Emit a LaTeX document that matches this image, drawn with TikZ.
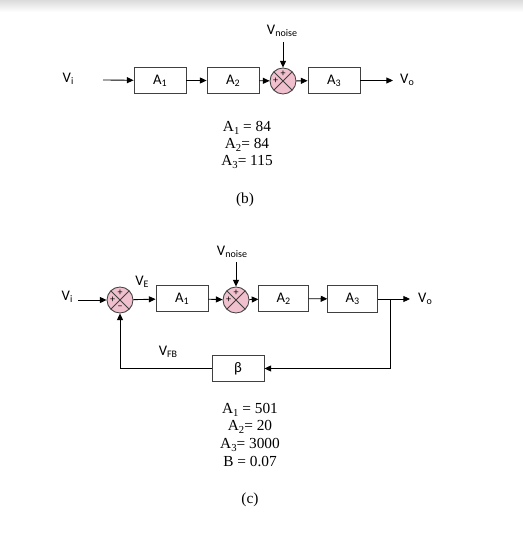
\documentclass[tikz,border=0pt]{standalone}
\usepackage{fontspec}
\setmainfont{Liberation Serif}
\newfontfamily\lblfont{Carlito}
\usetikzlibrary{arrows.meta}
\definecolor{sumpink}{HTML}{F0C0CE}
\newcommand\lowsub[1]{\raisebox{-0.3ex}{\fontsize{7.5}{8}\selectfont #1}}
\newcommand\eqsub[1]{\raisebox{-0.35ex}{\fontsize{8}{8}\selectfont #1}}
\begin{document}
\begin{tikzpicture}[x=0.75pt,y=-0.75pt,
  line width=0.65pt,
  arr/.style={-{Triangle[length=5pt,width=4.5pt]}},
  blk/.style={draw=black!75,line width=0.65pt,minimum width=39pt,minimum height=20pt,inner sep=0pt,font=\lblfont\fontsize{11}{12}\selectfont},
  lbl/.style={font=\lblfont\fontsize{11}{12}\selectfont,inner sep=1pt},
  sumj/.style={circle,draw=black!75,fill=sumpink,minimum size=19.5pt,inner sep=0pt,
    path picture={\draw[black!75,line width=0.65pt] (path picture bounding box.north west) -- (path picture bounding box.south east)
      (path picture bounding box.north east) -- (path picture bounding box.south west);}},
  sgn/.style={font=\lblfont\fontsize{7.5}{7.5}\selectfont,inner sep=0pt},
  eq/.style={font=\fontsize{11.5}{13}\selectfont,inner sep=0pt}
]
\useasboundingbox (0,0) rectangle (523,534);
\shade[top color=black!14,bottom color=white] (0,0) rectangle (523,12);

% ---------------- (b) ----------------
\node[lbl] (bvi) at (68,79) {V\lowsub{i}};
\coordinate (bin) at (103,80);
\node[blk] (ba1) at (160,80.5) {A\lowsub{1}};
\node[blk] (ba2) at (233,80.5) {A\lowsub{2}};
\node[sumj] (bs) at (283,81) {};
\node[sgn] at ([yshift=5.5pt]bs.center) {+};
\node[sgn] at ([xshift=-5.5pt]bs.center) {+};
\node[blk] (ba3) at (334,80.5) {A\lowsub{3}};
\coordinate (bout) at (393,80.5);
\node[lbl] (bvo) at (407,80) {V\lowsub{o}};
\node[lbl] (bvn) at (282,31) {V\lowsub{noise}};
\coordinate (bntop) at (283,42);

\draw[arr] (bin) -- (ba1);
\draw[arr] (ba1) -- (ba2);
\draw[arr] (ba2) -- (bs);
\draw[arr] (bntop) -- (bs);
\draw[arr] (bs) -- (ba3);
\draw[arr] (ba3) -- (bout);

\node[eq] (beq1) at (247,128) {A\eqsub{1} = 84};
\node[eq] (beq2) at (247,145) {A\eqsub{2}= 84};
\node[eq] (beq3) at (247,162) {A\eqsub{3}= 115};
\node[eq] (bcap) at (245,200) {(b)};

% ---------------- (c) ----------------
\node[lbl] (cvi) at (67,297) {V\lowsub{i}};
\coordinate (cin) at (78,300);
\node[sumj] (cs1) at (120,300) {};
\node[sgn] at ([yshift=5.5pt]cs1.center) {+};
\node[sgn] at ([xshift=-5.5pt]cs1.center) {+};
\node[sgn] at ([yshift=-5.5pt]cs1.center) {−};
\node[lbl] (cve) at (142,282) {V\lowsub{E}};
\node[blk] (ca1) at (182,298.5) {A\lowsub{1}};
\node[sumj] (cs2) at (236,300) {};
\node[sgn] at ([yshift=5.5pt]cs2.center) {+};
\node[sgn] at ([xshift=-5.5pt]cs2.center) {+};
\node[lbl] (cvn) at (232,252) {V\lowsub{noise}};
\coordinate (cntop) at (236,262);
\node[blk,minimum width=37pt] (ca2) at (283.5,298.5) {A\lowsub{2}};
\node[blk,minimum width=37pt] (ca3) at (352.5,299) {A\lowsub{3}};
\coordinate (cbr) at (390,299);
\coordinate (cout) at (410,299);
\node[lbl] (cvo) at (425,299) {V\lowsub{o}};
\node[blk] (cb) at (238,368.5) {β};
\coordinate (cfbc) at (120,368.5);
\node[lbl] (cvfb) at (168,352) {V\lowsub{FB}};

\draw[arr] (cin) -- (cs1);
\draw[arr] (cs1) -- (ca1);
\draw[arr] (ca1) -- (cs2);
\draw[arr] (cntop) -- (cs2);
\draw[arr] (cs2) -- (ca2);
\draw[arr] (ca2) -- (ca3);
\draw[arr] (ca3.east |- cbr) -- (cout);
\draw[arr] (cbr) |- (cb.east);
\draw[arr] (cb.west) -- (cfbc) -- (cs1.south);

\node[eq] (ceq1) at (250,410) {A\eqsub{1} = 501};
\node[eq] (ceq2) at (250,427) {A\eqsub{2}= 20};
\node[eq] (ceq3) at (250,445) {A\eqsub{3}= 3000};
\node[eq] (ceq4) at (250,462) {B = 0.07};
\node[eq] (ccap) at (250,500) {(c)};
\end{tikzpicture}
\end{document}
